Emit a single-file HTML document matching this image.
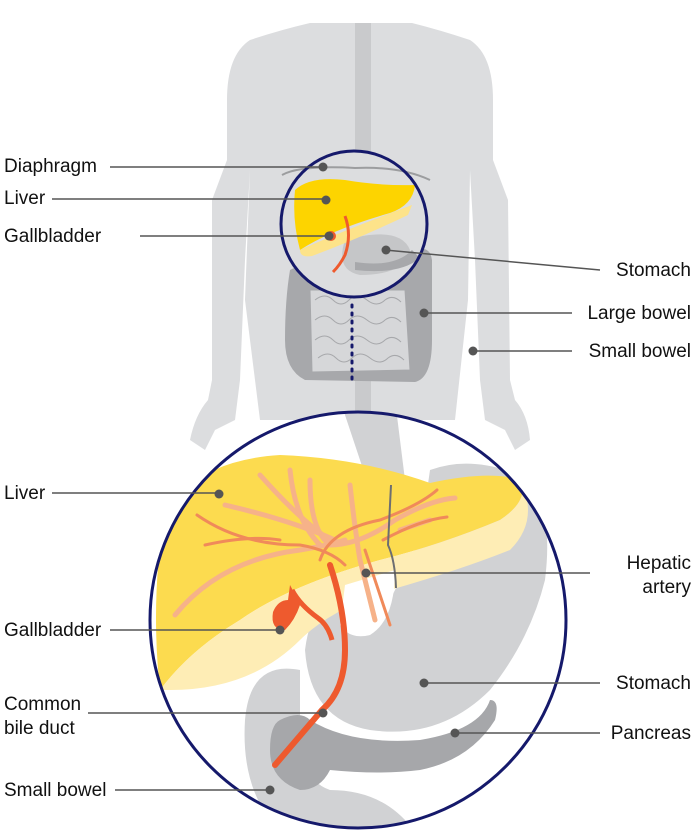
<!DOCTYPE html>
<html><head><meta charset="utf-8"><style>
html,body{margin:0;padding:0;background:#fff}
svg{display:block}
text{font-family:"Liberation Sans",Arial,sans-serif;font-size:19px;fill:#111}
</style></head><body>
<svg width="700" height="835" viewBox="0 0 700 835" xmlns="http://www.w3.org/2000/svg">
<g fill="#dcdddf">
<path d="M310 23 L412 23 Q440 30 470 40 Q493 55 493 100 L493 160 L508 200 L510 380 L515 400 Q528 415 530 440 L515 450 L505 430 L485 420 L480 380 L475 260 L470 170 L468 300 L455 420 L260 420 L245 300 L250 170 L245 260 L240 380 L235 420 L215 430 L205 450 L190 440 Q195 415 208 400 L212 380 L212 200 L227 160 L227 100 Q227 55 250 40 Q280 30 310 23 Z"/>
</g>
<rect x="355" y="23" width="16" height="400" fill="#c9cacc"/>
<path d="M290 270 Q285 300 285 340 Q285 370 305 380 L415 382 Q432 378 432 340 L432 260 Q430 245 415 250 L395 260 L300 265 Z" fill="#a7a8ab"/>
<path d="M310 290 L405 290 L410 370 L312 372 Z" fill="#d6d7d9" stroke="#a7a8ab" stroke-width="1"/>
<g fill="none" stroke="#a7a8ab" stroke-width="1">
<path d="M315 300 q10 -8 18 0 q8 8 16 0 q8 -8 18 0 q10 8 18 0 q8 -6 16 2"/>
<path d="M315 320 q10 -8 18 0 q8 8 16 0 q8 -8 18 0 q10 8 18 0 q8 -6 16 2"/>
<path d="M315 340 q10 -8 18 0 q8 8 16 0 q8 -8 18 0 q10 8 18 0 q8 -6 16 2"/>
<path d="M318 358 q10 -8 18 0 q8 8 16 0 q8 -8 18 0 q10 8 18 0 q8 -6 16 2"/>
</g>
<circle cx="354" cy="224" r="73" fill="#dcdddf"/>
<path d="M345 240 Q400 225 410 250 Q405 275 360 275 Q335 270 345 240Z" fill="#c5c6c8"/>
<path d="M355 262 Q395 268 412 250 L420 258 Q400 275 355 270Z" fill="#a7a8ab"/>
<path d="M295 190 Q310 176 345 180 Q380 186 415 185 Q413 205 390 213 Q330 230 300 250 Q292 220 295 190Z" fill="#fdd400"/>
<path d="M300 250 Q340 232 412 205 L408 215 Q360 238 312 256 Q300 258 300 250Z" fill="#fde38a"/>
<path d="M345 216 Q352 235 345 255 Q340 265 333 272" stroke="#ee5a2e" stroke-width="3" fill="none"/>
<circle cx="331" cy="236" r="5" fill="#ee5a2e"/>
<path d="M282 175 Q300 165 355 168 Q400 166 430 180" stroke="#9c9d9f" stroke-width="2" fill="none"/>
<circle cx="354" cy="224" r="73" fill="none" stroke="#15196b" stroke-width="3"/>
<line x1="352" y1="305" x2="352" y2="380" stroke="#15196b" stroke-width="3" stroke-dasharray="2 6" stroke-linecap="round"/>
<defs><clipPath id="c"><circle cx="358" cy="620" r="208"/></clipPath></defs>
<circle cx="358" cy="620" r="208" fill="#fff"/>
<g clip-path="url(#c)">
<path d="M340 400 L395 400 L405 480 L370 490Z" fill="#d1d2d4"/>
<path d="M430 470 Q470 455 520 475 Q555 500 545 580 Q530 640 490 690 Q440 740 370 730 Q310 720 305 650 Q310 610 330 600 L380 620 Q400 580 420 540 Z" fill="#d1d2d4"/>
<path d="M300 670 Q250 660 245 720 Q240 800 290 840 L420 840 Q390 790 330 790 Q300 780 300 730Z" fill="#d1d2d4"/>
<path d="M280 720 Q300 710 310 720 Q350 745 420 740 Q480 730 490 700 Q500 700 495 720 Q470 760 420 770 Q380 775 330 770 Q320 790 300 790 Q270 780 270 750 Q270 725 280 720Z" fill="#a6a7aa"/>
<path d="M165 510 Q200 460 280 455 Q360 458 430 483 Q490 470 520 480 Q530 500 500 520 Q440 545 380 560 Q290 585 240 620 Q190 650 160 690 Q150 600 165 510Z" fill="#fcdb4f"/>
<path d="M160 690 Q190 650 240 620 Q290 585 380 560 Q440 545 500 520 Q530 500 520 480 Q540 520 510 550 Q460 570 390 590 Q330 610 300 640 Q250 690 170 690Z" fill="#feedb5"/>
<path d="M345 585 L395 570 Q395 620 370 635 Q350 640 340 625Z" fill="#fff"/>
<g stroke="#f6b289" stroke-width="5" fill="none" stroke-linecap="round">
<path d="M175 615 Q220 560 300 550 Q330 545 345 540"/>
<path d="M225 505 Q290 520 335 540"/>
<path d="M260 475 Q300 520 330 540"/>
<path d="M290 470 Q295 520 320 545"/>
<path d="M310 480 Q310 530 330 545 Q360 545 395 520 Q430 500 455 498"/>
<path d="M350 485 Q355 530 360 560 L375 620"/>
<path d="M400 530 L430 520"/>
</g>
<g stroke="#f08a5a" stroke-width="3" fill="none" stroke-linecap="round">
<path d="M197 515 Q240 545 300 545 Q330 550 345 565"/>
<path d="M205 545 Q250 535 280 540"/>
<path d="M320 560 Q330 530 380 520 Q420 505 437 490"/>
<path d="M383 540 Q420 520 447 517"/>
<path d="M365 550 L390 625"/>
</g>
<path d="M330 565 Q345 610 345 650 Q345 690 322 710 L275 765" stroke="#ee5a2e" stroke-width="6" fill="none" stroke-linecap="round"/>
<path d="M292 590 Q300 605 318 618 Q328 625 332 640" stroke="#ee5a2e" stroke-width="5" fill="none"/>
<path d="M290 585 Q298 600 300 605 Q295 620 285 630 Q270 630 273 612 Q278 600 288 600Z" fill="#ee5a2e"/>
<path d="M391 485 L388 545 Q395 560 396 588" stroke="#6d6e71" stroke-width="2" fill="none"/>
</g>
<circle cx="358" cy="620" r="208" fill="none" stroke="#15196b" stroke-width="3"/>
<g stroke="#555" stroke-width="1.5">
<line x1="110" y1="167" x2="323" y2="167"/>
<line x1="52" y1="199" x2="326" y2="199"/>
<line x1="140" y1="236" x2="329" y2="236"/>
<line x1="385" y1="250" x2="600" y2="270"/>
<line x1="425" y1="313" x2="572" y2="313"/>
<line x1="473" y1="351" x2="572" y2="351"/>
<line x1="52" y1="493" x2="219" y2="493"/>
<line x1="365" y1="573" x2="590" y2="573"/>
<line x1="110" y1="630" x2="280" y2="630"/>
<line x1="424" y1="683" x2="600" y2="683"/>
<line x1="88" y1="713" x2="323" y2="713"/>
<line x1="455" y1="733" x2="600" y2="733"/>
<line x1="115" y1="790" x2="270" y2="790"/>
</g>
<g fill="#555">
<circle cx="323" cy="167" r="4.5"/><circle cx="326" cy="200" r="4.5"/><circle cx="329" cy="236" r="4.5"/>
<circle cx="386" cy="250" r="4.5"/><circle cx="424" cy="313" r="4.5"/><circle cx="473" cy="351" r="4.5"/>
<circle cx="219" cy="494" r="4.5"/><circle cx="366" cy="573" r="4.5"/><circle cx="280" cy="630" r="4.5"/>
<circle cx="424" cy="683" r="4.5"/><circle cx="323" cy="713" r="4.5"/><circle cx="455" cy="733" r="4.5"/><circle cx="270" cy="790" r="4.5"/>
</g>
<text x="4" y="172">Diaphragm</text>
<text x="4" y="204">Liver</text>
<text x="4" y="242">Gallbladder</text>
<text x="691" y="276" text-anchor="end">Stomach</text>
<text x="691" y="319" text-anchor="end">Large bowel</text>
<text x="691" y="357" text-anchor="end">Small bowel</text>
<text x="4" y="499">Liver</text>
<text x="691" y="569" text-anchor="end">Hepatic</text>
<text x="691" y="593" text-anchor="end">artery</text>
<text x="4" y="636">Gallbladder</text>
<text x="691" y="689" text-anchor="end">Stomach</text>
<text x="4" y="710">Common</text>
<text x="4" y="734">bile duct</text>
<text x="691" y="739" text-anchor="end">Pancreas</text>
<text x="4" y="796">Small bowel</text>
</svg>
</body></html>
